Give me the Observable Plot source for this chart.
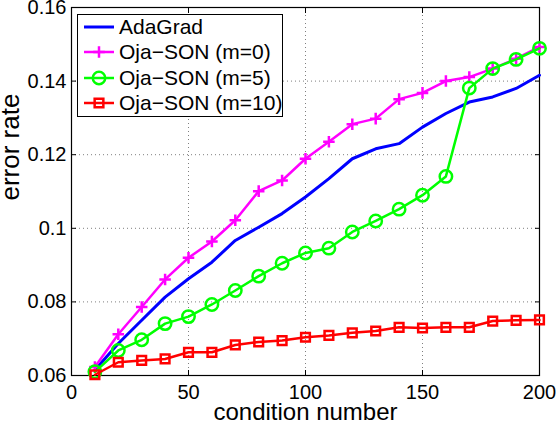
<!DOCTYPE html>
<html>
<head>
<meta charset="utf-8">
<script src="https://cdn.jsdelivr.net/npm/d3@7"></script>
<script src="https://cdn.jsdelivr.net/npm/@observablehq/plot@0.6"></script>
<style>
  html, body { margin: 0; padding: 0; background: #fff; }
  #wrap { position: relative; width: 558px; height: 423px; font-family: "Liberation Sans", Arial, sans-serif; }
  #legend { position: absolute; left: 77px; top: 14px; width: 206px; height: 103px; border: 1px solid #000; background: #fff; box-sizing: border-box; }
  .row { position: absolute; left: 0; height: 26px; display: flex; align-items: center; }
  .row span { font-size: 21px; color: #000; margin-left: 4px; white-space: nowrap; }
</style>
</head>
<body>
<div id="wrap"><div id="legend"></div></div>
<script>
const conditionNumbers = [10,20,30,40,50,60,70,80,90,100,110,120,130,140,150,160,170,180,190,200];
const adagrad = [0.0615,0.0687,0.0750,0.0813,0.0863,0.0908,0.0967,0.1003,0.1040,0.1085,0.1135,0.1189,0.1216,0.1230,0.1275,0.1312,0.1343,0.1357,0.1380,0.1416];
const ojaM0  = [0.0623,0.0712,0.0786,0.0861,0.0920,0.0964,0.1022,0.1101,0.1130,0.1189,0.1235,0.1283,0.1298,0.1351,0.1368,0.1400,0.1411,0.1434,0.1461,0.1493];
const ojaM5  = [0.0610,0.0668,0.0697,0.0741,0.0760,0.0793,0.0831,0.0870,0.0905,0.0933,0.0946,0.0990,0.1020,0.1052,0.1090,0.1141,0.1381,0.1434,0.1459,0.1489];
const ojaM10 = [0.0602,0.0636,0.0641,0.0645,0.0663,0.0663,0.0683,0.0691,0.0695,0.0704,0.0709,0.0716,0.0721,0.0731,0.0729,0.0731,0.0731,0.0748,0.0750,0.0751];
const seriesNames = ["AdaGrad", "Oja\u2212SON (m=0)", "Oja\u2212SON (m=5)", "Oja\u2212SON (m=10)"];
const seriesColors = ["#0000ff", "#ff00ff", "#00ff00", "#ff0000"];
const seriesSymbols = [null, "plus", "circle", "square"];
const xTicks = [0, 50, 100, 150, 200];
const yTicks = [0.06, 0.08, 0.1, 0.12, 0.14, 0.16];
const yTickLabels = ["0.06", "0.08", "0.1", "0.12", "0.14", "0.16"];
const xLabel = "condition number";
const yLabel = "error rate";

const allValues = [adagrad, ojaM0, ojaM5, ojaM10];
const rows = (vals) => conditionNumbers.map((x, i) => ({x, y: vals[i]}));
const symbolR = {plus: 3.8, circle: 6.2, square: 4.9};
const noLabel = () => "";

const marks = [
  Plot.gridX(xTicks.slice(1, -1), {stroke: "#7f7f7f", strokeOpacity: 1, strokeDasharray: "1,3"}),
  Plot.gridY(yTicks.slice(1, -1), {stroke: "#7f7f7f", strokeOpacity: 1, strokeDasharray: "1,3"}),
  // inward tick marks on all four sides
  Plot.axisX(xTicks, {anchor: "bottom", tickSize: -5, tickFormat: noLabel, label: null}),
  Plot.axisX(xTicks, {anchor: "top", tickSize: -5, tickFormat: noLabel, label: null}),
  Plot.axisY(yTicks, {anchor: "left", tickSize: -5, tickFormat: noLabel, label: null}),
  Plot.axisY(yTicks, {anchor: "right", tickSize: -5, tickFormat: noLabel, label: null}),
  // tick labels
  Plot.axisX(xTicks, {anchor: "bottom", tickSize: 0, tickPadding: 9, fontSize: 20, label: null}),
  Plot.axisY(yTicks, {anchor: "left", tickSize: 0, tickPadding: 5, fontSize: 20, tickFormat: (d, i) => yTickLabels[i], label: null}),
  Plot.frame({stroke: "#000", strokeWidth: 1.2}),
  Plot.text([xLabel], {frameAnchor: "bottom", dy: 44, fontSize: 24, text: d => d, lineAnchor: "bottom"}),
  Plot.text([yLabel], {frameAnchor: "left", dx: -53, dy: 9, rotate: -90, fontSize: 26, text: d => d, lineAnchor: "bottom"})
];
allValues.forEach((vals, s) => {
  marks.push(Plot.line(rows(vals), {x: "x", y: "y", stroke: seriesColors[s], strokeWidth: s === 0 ? 3 : 2.5}));
  if (seriesSymbols[s]) {
    marks.push(Plot.dot(rows(vals), {x: "x", y: "y", stroke: seriesColors[s], fill: "none", strokeWidth: 2.5, symbol: seriesSymbols[s], r: symbolR[seriesSymbols[s]]}));
  }
});

const chart = Plot.plot({
  width: 558, height: 423,
  marginLeft: 71, marginRight: 19, marginTop: 7, marginBottom: 48,
  style: {fontFamily: "Liberation Sans, Arial, sans-serif", fontSize: "20px", color: "#000", background: "#fff", overflow: "visible"},
  x: {domain: [0, 200], axis: null},
  y: {domain: [0.06, 0.16], axis: null},
  marks
});
const wrap = document.getElementById("wrap");
wrap.insertBefore(chart, wrap.firstChild);

// legend
const legend = document.getElementById("legend");
const symbolPaths = {
  plus: d3.symbol(d3.symbolPlus, Math.PI * symbolR.plus ** 2)(),
  circle: d3.symbol(d3.symbolCircle, Math.PI * symbolR.circle ** 2)(),
  square: d3.symbol(d3.symbolSquare, Math.PI * symbolR.square ** 2)()
};
seriesNames.forEach((name, s) => {
  const row = document.createElement("div");
  row.className = "row";
  row.style.top = (-1 + s * 25.4) + "px";
  const sym = seriesSymbols[s];
  row.innerHTML = `<svg width="37" height="26" style="display:block">
    <line x1="6" x2="36" y1="13" y2="13" stroke="${seriesColors[s]}" stroke-width="${s === 0 ? 3 : 2.5}"/>
    ${sym ? `<path transform="translate(21,13)" d="${symbolPaths[sym]}" fill="none" stroke="${seriesColors[s]}" stroke-width="2.5"/>` : ""}
  </svg><span>${name}</span>`;
  legend.appendChild(row);
});
</script>
</body>
</html>
